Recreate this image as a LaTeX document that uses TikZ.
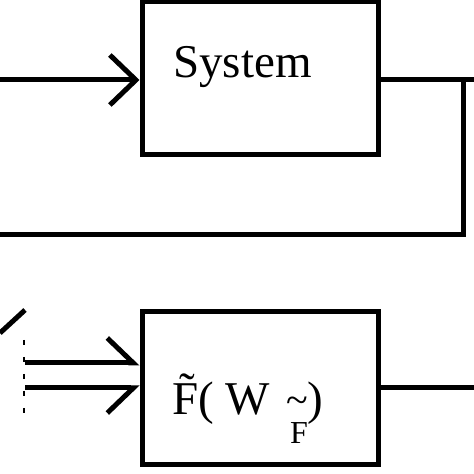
\documentclass[tikz,border=0pt]{standalone}
\usepackage{fontspec}
\setmainfont{Liberation Serif}
\usetikzlibrary{arrows.meta}
\tikzset{
	block/.style = {draw, line width=5pt, minimum width=236pt, minimum height=153pt, inner sep=0pt},
	wire/.style = {line width=5pt},
	barb/.style = {-{Straight Barb[length=26pt,width=50pt]}},
	upbarb/.style = {-{Straight Barb[left,length=26pt,width=50pt]}},
	lowbarb/.style = {-{Straight Barb[right,length=26pt,width=50pt]}},
	lbl/.style = {inner sep=0pt, font=\fontsize{47}{50}\selectfont},
}
\newcommand{\subsz}{\fontsize{32}{32}\selectfont}
\newcommand{\tilsz}{\fontsize{40}{40}\selectfont}
\begin{document}
\begin{tikzpicture}[x=1pt,y=1pt]
	\useasboundingbox (0,0) rectangle (474,474);
	% system loop
	\node (sys) at (260,395.5)	[block]	{};
	\node (syslbl) at (173,396)	[anchor=base west, lbl]	{System};
	\coordinate (in) at (0,394);
	\coordinate (out) at (474,394);
	\coordinate (tap) at (463,394);
	\coordinate (fb) at (0,239);
	\draw[wire, barb] (in) -- (in -| sys.west);
	\draw[wire] (out -| sys.east) -- (out);
	\draw[wire] (tap) -- (tap |- fb) -- (fb);
	% model
	\node (mdl) at (260,85.5)	[block]	{};
	\node (mdllbl) at (172,59)	[anchor=base west, lbl]	{\~{F}( W\hspace{0.34em}\rlap{\raisebox{2pt}{\tilsz\textasciitilde}}\hspace{4pt}\raisebox{-28pt}{\subsz F})};
	\coordinate (ina) at (25,111);
	\coordinate (inb) at (25,86);
	\coordinate (outb) at (474,86);
	\draw[wire, upbarb] (ina) -- (ina -| mdl.west);
	\draw[wire, lowbarb] (inb) -- (inb -| mdl.west);
	\draw[wire] (outb -| mdl.east) -- (outb);
	% cut-off switch
	\coordinate (sw1) at (0,141);
	\coordinate (sw2) at (25,164);
	\coordinate (dt1) at (24,134);
	\coordinate (dt2) at (24,59);
	\draw[wire] (sw1) -- (sw2);
	\draw[line width=1.5pt, dash pattern=on 5pt off 12pt] (dt1) -- (dt2);
\end{tikzpicture}
\end{document}
